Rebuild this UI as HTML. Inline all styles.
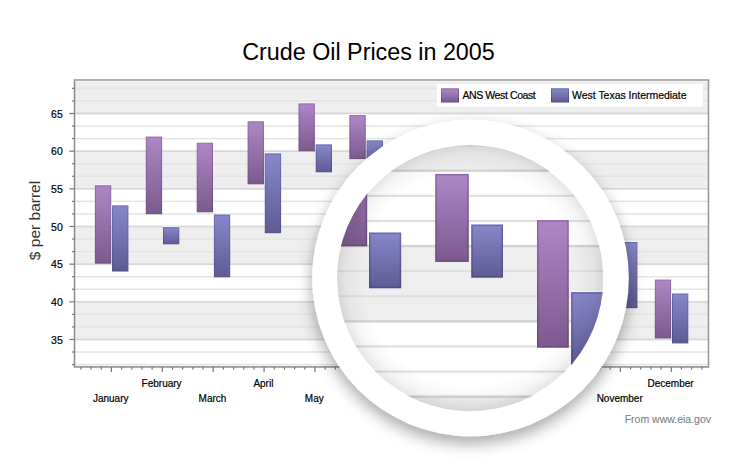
<!DOCTYPE html>
<html><head><meta charset="utf-8"><style>
html,body{margin:0;padding:0;background:#fff;width:750px;height:476px;overflow:hidden}
svg{display:block}
.t{font-family:"Liberation Sans",sans-serif;font-size:10px;fill:#000;stroke:#000;stroke-width:0.2px}
</style></head><body>
<svg width="750" height="476" viewBox="0 0 750 476">
<defs>
<linearGradient id="gans" x1="0" y1="0" x2="0" y2="1"><stop offset="0" stop-color="#ae86c6"/><stop offset="1" stop-color="#7c5a8e"/></linearGradient>
<linearGradient id="sans" x1="0" y1="0" x2="0" y2="1"><stop offset="0" stop-color="#9068a8"/><stop offset="1" stop-color="#6a4a7a"/></linearGradient>
<linearGradient id="gwti" x1="0" y1="0" x2="0" y2="1"><stop offset="0" stop-color="#8787ca"/><stop offset="1" stop-color="#5e5c94"/></linearGradient>
<linearGradient id="swti" x1="0" y1="0" x2="0" y2="1"><stop offset="0" stop-color="#6868b0"/><stop offset="1" stop-color="#4e4c82"/></linearGradient>
<clipPath id="lensclip"><circle cx="470.2" cy="278.2" r="133.2"/></clipPath>
<radialGradient id="inshadow" cx="470" cy="278" r="133" gradientUnits="userSpaceOnUse">
<stop offset="0.80" stop-color="#000" stop-opacity="0"/>
<stop offset="0.93" stop-color="#000" stop-opacity="0.04"/>
<stop offset="1" stop-color="#000" stop-opacity="0.10"/>
</radialGradient>
<filter id="dshadow" x="-30%" y="-30%" width="160%" height="160%">
<feGaussianBlur in="SourceAlpha" stdDeviation="8"/>
<feOffset dx="0" dy="7" result="b"/>
<feComponentTransfer><feFuncA type="linear" slope="0.35"/></feComponentTransfer>
<feMerge><feMergeNode/><feMergeNode in="SourceGraphic"/></feMerge>
</filter>
</defs>
<text x="368.5" y="60.4" text-anchor="middle" style="font-family:'Liberation Sans',sans-serif;font-size:23.3px;fill:#000">Crude Oil Prices in 2005</text>
<text transform="translate(39.6,220.5) rotate(-90)" text-anchor="middle" style="font-family:'Liberation Sans',sans-serif;font-size:15.5px;fill:#333">$ per barrel</text>
<g id="content">
<rect x="74.50" y="80.00" width="634.00" height="286.50" fill="#fff"/>
<rect x="74.50" y="80.00" width="634.00" height="33.50" fill="#eeeeee"/>
<rect x="74.50" y="151.17" width="634.00" height="37.67" fill="#eeeeee"/>
<rect x="74.50" y="226.50" width="634.00" height="37.67" fill="#eeeeee"/>
<rect x="74.50" y="301.83" width="634.00" height="37.67" fill="#eeeeee"/>
<rect x="74.50" y="87.64" width="634.00" height="1.50" fill="#e4e4e4"/>
<rect x="74.50" y="100.19" width="634.00" height="1.50" fill="#e4e4e4"/>
<rect x="74.50" y="112.60" width="634.00" height="1.80" fill="#d8d8d8"/>
<rect x="74.50" y="125.31" width="634.00" height="1.50" fill="#e4e4e4"/>
<rect x="74.50" y="137.86" width="634.00" height="1.50" fill="#e4e4e4"/>
<rect x="74.50" y="150.27" width="634.00" height="1.80" fill="#d8d8d8"/>
<rect x="74.50" y="162.97" width="634.00" height="1.50" fill="#e4e4e4"/>
<rect x="74.50" y="175.53" width="634.00" height="1.50" fill="#e4e4e4"/>
<rect x="74.50" y="187.93" width="634.00" height="1.80" fill="#d8d8d8"/>
<rect x="74.50" y="200.64" width="634.00" height="1.50" fill="#e4e4e4"/>
<rect x="74.50" y="213.19" width="634.00" height="1.50" fill="#e4e4e4"/>
<rect x="74.50" y="225.60" width="634.00" height="1.80" fill="#d8d8d8"/>
<rect x="74.50" y="238.31" width="634.00" height="1.50" fill="#e4e4e4"/>
<rect x="74.50" y="250.86" width="634.00" height="1.50" fill="#e4e4e4"/>
<rect x="74.50" y="263.27" width="634.00" height="1.80" fill="#d8d8d8"/>
<rect x="74.50" y="275.97" width="634.00" height="1.50" fill="#e4e4e4"/>
<rect x="74.50" y="288.53" width="634.00" height="1.50" fill="#e4e4e4"/>
<rect x="74.50" y="300.93" width="634.00" height="1.80" fill="#d8d8d8"/>
<rect x="74.50" y="313.64" width="634.00" height="1.50" fill="#e4e4e4"/>
<rect x="74.50" y="326.19" width="634.00" height="1.50" fill="#e4e4e4"/>
<rect x="74.50" y="338.60" width="634.00" height="1.80" fill="#d8d8d8"/>
<rect x="74.50" y="351.30" width="634.00" height="1.50" fill="#e4e4e4"/>
<rect x="74.50" y="363.86" width="634.00" height="1.50" fill="#e4e4e4"/>
<rect x="94.90" y="184.30" width="16.30" height="1" fill="#fff" opacity="0.8"/>
<rect x="95.40" y="185.80" width="15.30" height="77.30" fill="url(#gans)" stroke="url(#sans)" stroke-width="1.0"/>
<rect x="112.10" y="204.40" width="16.30" height="1" fill="#fff" opacity="0.8"/>
<rect x="112.60" y="205.90" width="15.30" height="65.10" fill="url(#gwti)" stroke="url(#swti)" stroke-width="1.0"/>
<rect x="145.80" y="135.60" width="16.30" height="1" fill="#fff" opacity="0.8"/>
<rect x="146.30" y="137.10" width="15.30" height="76.60" fill="url(#gans)" stroke="url(#sans)" stroke-width="1.0"/>
<rect x="163.00" y="226.20" width="16.30" height="1" fill="#fff" opacity="0.8"/>
<rect x="163.50" y="227.70" width="15.30" height="16.10" fill="url(#gwti)" stroke="url(#swti)" stroke-width="1.0"/>
<rect x="196.70" y="141.70" width="16.30" height="1" fill="#fff" opacity="0.8"/>
<rect x="197.20" y="143.20" width="15.30" height="68.60" fill="url(#gans)" stroke="url(#sans)" stroke-width="1.0"/>
<rect x="213.90" y="213.50" width="16.30" height="1" fill="#fff" opacity="0.8"/>
<rect x="214.40" y="215.00" width="15.30" height="61.80" fill="url(#gwti)" stroke="url(#swti)" stroke-width="1.0"/>
<rect x="247.60" y="120.30" width="16.30" height="1" fill="#fff" opacity="0.8"/>
<rect x="248.10" y="121.80" width="15.30" height="62.00" fill="url(#gans)" stroke="url(#sans)" stroke-width="1.0"/>
<rect x="264.80" y="152.40" width="16.30" height="1" fill="#fff" opacity="0.8"/>
<rect x="265.30" y="153.90" width="15.30" height="78.80" fill="url(#gwti)" stroke="url(#swti)" stroke-width="1.0"/>
<rect x="298.50" y="102.40" width="16.30" height="1" fill="#fff" opacity="0.8"/>
<rect x="299.00" y="103.90" width="15.30" height="46.90" fill="url(#gans)" stroke="url(#sans)" stroke-width="1.0"/>
<rect x="315.70" y="143.40" width="16.30" height="1" fill="#fff" opacity="0.8"/>
<rect x="316.20" y="144.90" width="15.30" height="26.90" fill="url(#gwti)" stroke="url(#swti)" stroke-width="1.0"/>
<rect x="349.40" y="114.10" width="16.30" height="1" fill="#fff" opacity="0.8"/>
<rect x="349.90" y="115.60" width="15.30" height="43.00" fill="url(#gans)" stroke="url(#sans)" stroke-width="1.0"/>
<rect x="366.60" y="139.40" width="16.30" height="1" fill="#fff" opacity="0.8"/>
<rect x="367.10" y="140.90" width="15.30" height="25.60" fill="url(#gwti)" stroke="url(#swti)" stroke-width="1.0"/>
<rect x="400.30" y="137.20" width="16.30" height="1" fill="#fff" opacity="0.8"/>
<rect x="400.80" y="138.70" width="15.30" height="62.80" fill="url(#gans)" stroke="url(#sans)" stroke-width="1.0"/>
<rect x="417.50" y="173.20" width="16.30" height="1" fill="#fff" opacity="0.8"/>
<rect x="418.00" y="174.70" width="15.30" height="39.80" fill="url(#gwti)" stroke="url(#swti)" stroke-width="1.0"/>
<rect x="451.20" y="149.00" width="16.30" height="1" fill="#fff" opacity="0.8"/>
<rect x="451.70" y="150.50" width="15.30" height="59.00" fill="url(#gans)" stroke="url(#sans)" stroke-width="1.0"/>
<rect x="468.40" y="164.00" width="16.30" height="1" fill="#fff" opacity="0.8"/>
<rect x="468.90" y="165.50" width="15.30" height="64.00" fill="url(#gwti)" stroke="url(#swti)" stroke-width="1.0"/>
<rect x="502.10" y="169.00" width="16.30" height="1" fill="#fff" opacity="0.8"/>
<rect x="502.60" y="170.50" width="15.30" height="69.00" fill="url(#gans)" stroke="url(#sans)" stroke-width="1.0"/>
<rect x="519.30" y="189.00" width="16.30" height="1" fill="#fff" opacity="0.8"/>
<rect x="519.80" y="190.50" width="15.30" height="69.00" fill="url(#gwti)" stroke="url(#swti)" stroke-width="1.0"/>
<rect x="553.00" y="199.00" width="16.30" height="1" fill="#fff" opacity="0.8"/>
<rect x="553.50" y="200.50" width="15.30" height="69.00" fill="url(#gans)" stroke="url(#sans)" stroke-width="1.0"/>
<rect x="570.20" y="214.00" width="16.30" height="1" fill="#fff" opacity="0.8"/>
<rect x="570.70" y="215.50" width="15.30" height="69.00" fill="url(#gwti)" stroke="url(#swti)" stroke-width="1.0"/>
<rect x="603.90" y="244.00" width="16.30" height="1" fill="#fff" opacity="0.8"/>
<rect x="604.40" y="245.50" width="15.30" height="54.00" fill="url(#gans)" stroke="url(#sans)" stroke-width="1.0"/>
<rect x="621.10" y="241.00" width="16.30" height="1" fill="#fff" opacity="0.8"/>
<rect x="621.60" y="242.50" width="15.30" height="65.20" fill="url(#gwti)" stroke="url(#swti)" stroke-width="1.0"/>
<rect x="654.80" y="278.60" width="16.30" height="1" fill="#fff" opacity="0.8"/>
<rect x="655.30" y="280.10" width="15.30" height="57.80" fill="url(#gans)" stroke="url(#sans)" stroke-width="1.0"/>
<rect x="672.00" y="292.50" width="16.30" height="1" fill="#fff" opacity="0.8"/>
<rect x="672.50" y="294.00" width="15.30" height="48.90" fill="url(#gwti)" stroke="url(#swti)" stroke-width="1.0"/>
</g>
<rect x="73.75" y="80.0" width="1.5" height="287.5" fill="#8c8c8c"/>
<rect x="73.75" y="79.0" width="635.5" height="2" fill="#b0b0b0"/>
<rect x="75.25" y="81.0" width="632.5" height="1" fill="#f6f6f6"/>
<rect x="707.75" y="80.0" width="1.5" height="287.5" fill="#969696"/>
<rect x="73.75" y="366.0" width="635.5" height="1.8" fill="#9c9c9c"/>
<rect x="72" y="87.79" width="2.5" height="1.2" fill="#777"/>
<rect x="72" y="100.34" width="2.5" height="1.2" fill="#777"/>
<rect x="69.3" y="112.90" width="5.2" height="1.2" fill="#777"/>
<rect x="72" y="125.46" width="2.5" height="1.2" fill="#777"/>
<rect x="72" y="138.01" width="2.5" height="1.2" fill="#777"/>
<rect x="69.3" y="150.57" width="5.2" height="1.2" fill="#777"/>
<rect x="72" y="163.12" width="2.5" height="1.2" fill="#777"/>
<rect x="72" y="175.68" width="2.5" height="1.2" fill="#777"/>
<rect x="69.3" y="188.23" width="5.2" height="1.2" fill="#777"/>
<rect x="72" y="200.79" width="2.5" height="1.2" fill="#777"/>
<rect x="72" y="213.34" width="2.5" height="1.2" fill="#777"/>
<rect x="69.3" y="225.90" width="5.2" height="1.2" fill="#777"/>
<rect x="72" y="238.46" width="2.5" height="1.2" fill="#777"/>
<rect x="72" y="251.01" width="2.5" height="1.2" fill="#777"/>
<rect x="69.3" y="263.57" width="5.2" height="1.2" fill="#777"/>
<rect x="72" y="276.12" width="2.5" height="1.2" fill="#777"/>
<rect x="72" y="288.68" width="2.5" height="1.2" fill="#777"/>
<rect x="69.3" y="301.23" width="5.2" height="1.2" fill="#777"/>
<rect x="72" y="313.79" width="2.5" height="1.2" fill="#777"/>
<rect x="72" y="326.34" width="2.5" height="1.2" fill="#777"/>
<rect x="69.3" y="338.90" width="5.2" height="1.2" fill="#777"/>
<rect x="72" y="351.45" width="2.5" height="1.2" fill="#777"/>
<rect x="72" y="364.01" width="2.5" height="1.2" fill="#777"/>
<text x="62.8" y="117.60" text-anchor="end" class="t" style="font-size:10.5px">65</text>
<text x="62.8" y="155.27" text-anchor="end" class="t" style="font-size:10.5px">60</text>
<text x="62.8" y="192.93" text-anchor="end" class="t" style="font-size:10.5px">55</text>
<text x="62.8" y="230.60" text-anchor="end" class="t" style="font-size:10.5px">50</text>
<text x="62.8" y="268.27" text-anchor="end" class="t" style="font-size:10.5px">45</text>
<text x="62.8" y="305.93" text-anchor="end" class="t" style="font-size:10.5px">40</text>
<text x="62.8" y="343.60" text-anchor="end" class="t" style="font-size:10.5px">35</text>
<rect x="80.26" y="367" width="1.2" height="2.6" fill="#777"/>
<rect x="90.44" y="367" width="1.2" height="2.6" fill="#777"/>
<rect x="100.62" y="367" width="1.2" height="2.6" fill="#777"/>
<rect x="110.80" y="367" width="1.2" height="5" fill="#777"/>
<rect x="120.98" y="367" width="1.2" height="2.6" fill="#777"/>
<rect x="131.16" y="367" width="1.2" height="2.6" fill="#777"/>
<rect x="141.34" y="367" width="1.2" height="2.6" fill="#777"/>
<rect x="151.52" y="367" width="1.2" height="2.6" fill="#777"/>
<rect x="161.70" y="367" width="1.2" height="5" fill="#777"/>
<rect x="171.88" y="367" width="1.2" height="2.6" fill="#777"/>
<rect x="182.06" y="367" width="1.2" height="2.6" fill="#777"/>
<rect x="192.24" y="367" width="1.2" height="2.6" fill="#777"/>
<rect x="202.42" y="367" width="1.2" height="2.6" fill="#777"/>
<rect x="212.60" y="367" width="1.2" height="5" fill="#777"/>
<rect x="222.78" y="367" width="1.2" height="2.6" fill="#777"/>
<rect x="232.96" y="367" width="1.2" height="2.6" fill="#777"/>
<rect x="243.14" y="367" width="1.2" height="2.6" fill="#777"/>
<rect x="253.32" y="367" width="1.2" height="2.6" fill="#777"/>
<rect x="263.50" y="367" width="1.2" height="5" fill="#777"/>
<rect x="273.68" y="367" width="1.2" height="2.6" fill="#777"/>
<rect x="283.86" y="367" width="1.2" height="2.6" fill="#777"/>
<rect x="294.04" y="367" width="1.2" height="2.6" fill="#777"/>
<rect x="304.22" y="367" width="1.2" height="2.6" fill="#777"/>
<rect x="314.40" y="367" width="1.2" height="5" fill="#777"/>
<rect x="324.58" y="367" width="1.2" height="2.6" fill="#777"/>
<rect x="334.76" y="367" width="1.2" height="2.6" fill="#777"/>
<rect x="344.94" y="367" width="1.2" height="2.6" fill="#777"/>
<rect x="355.12" y="367" width="1.2" height="2.6" fill="#777"/>
<rect x="365.30" y="367" width="1.2" height="5" fill="#777"/>
<rect x="375.48" y="367" width="1.2" height="2.6" fill="#777"/>
<rect x="385.66" y="367" width="1.2" height="2.6" fill="#777"/>
<rect x="395.84" y="367" width="1.2" height="2.6" fill="#777"/>
<rect x="406.02" y="367" width="1.2" height="2.6" fill="#777"/>
<rect x="416.20" y="367" width="1.2" height="5" fill="#777"/>
<rect x="426.38" y="367" width="1.2" height="2.6" fill="#777"/>
<rect x="436.56" y="367" width="1.2" height="2.6" fill="#777"/>
<rect x="446.74" y="367" width="1.2" height="2.6" fill="#777"/>
<rect x="456.92" y="367" width="1.2" height="2.6" fill="#777"/>
<rect x="467.10" y="367" width="1.2" height="5" fill="#777"/>
<rect x="477.28" y="367" width="1.2" height="2.6" fill="#777"/>
<rect x="487.46" y="367" width="1.2" height="2.6" fill="#777"/>
<rect x="497.64" y="367" width="1.2" height="2.6" fill="#777"/>
<rect x="507.82" y="367" width="1.2" height="2.6" fill="#777"/>
<rect x="518.00" y="367" width="1.2" height="5" fill="#777"/>
<rect x="528.18" y="367" width="1.2" height="2.6" fill="#777"/>
<rect x="538.36" y="367" width="1.2" height="2.6" fill="#777"/>
<rect x="548.54" y="367" width="1.2" height="2.6" fill="#777"/>
<rect x="558.72" y="367" width="1.2" height="2.6" fill="#777"/>
<rect x="568.90" y="367" width="1.2" height="5" fill="#777"/>
<rect x="579.08" y="367" width="1.2" height="2.6" fill="#777"/>
<rect x="589.26" y="367" width="1.2" height="2.6" fill="#777"/>
<rect x="599.44" y="367" width="1.2" height="2.6" fill="#777"/>
<rect x="609.62" y="367" width="1.2" height="2.6" fill="#777"/>
<rect x="619.80" y="367" width="1.2" height="5" fill="#777"/>
<rect x="629.98" y="367" width="1.2" height="2.6" fill="#777"/>
<rect x="640.16" y="367" width="1.2" height="2.6" fill="#777"/>
<rect x="650.34" y="367" width="1.2" height="2.6" fill="#777"/>
<rect x="660.52" y="367" width="1.2" height="2.6" fill="#777"/>
<rect x="670.70" y="367" width="1.2" height="5" fill="#777"/>
<rect x="680.88" y="367" width="1.2" height="2.6" fill="#777"/>
<rect x="691.06" y="367" width="1.2" height="2.6" fill="#777"/>
<rect x="701.24" y="367" width="1.2" height="2.6" fill="#777"/>
<text x="110.70" y="401.7" text-anchor="middle" class="t">January</text>
<text x="161.60" y="386.8" text-anchor="middle" class="t">February</text>
<text x="212.50" y="401.7" text-anchor="middle" class="t">March</text>
<text x="263.40" y="386.8" text-anchor="middle" class="t">April</text>
<text x="314.30" y="401.7" text-anchor="middle" class="t">May</text>
<text x="619.70" y="401.7" text-anchor="middle" class="t">November</text>
<text x="670.60" y="386.8" text-anchor="middle" class="t">December</text>
<!-- legend -->
<rect x="436.7" y="84.3" width="266.3" height="22.4" fill="#fff"/>
<rect x="441.5" y="88.8" width="17" height="13.2" fill="url(#gans)" stroke="url(#sans)" stroke-width="1"/>
<text x="462.4" y="99.3" class="t" style="font-size:10.5px;letter-spacing:-0.4px">ANS West Coast</text>
<rect x="551.5" y="88.8" width="17" height="13.2" fill="url(#gwti)" stroke="url(#swti)" stroke-width="1"/>
<text x="572.1" y="99.3" class="t" style="font-size:10.5px;letter-spacing:-0.03px">West Texas Intermediate</text>
<text x="711" y="422.6" text-anchor="end" class="t" style="font-size:10.5px;fill:#808080;stroke:#808080;stroke-width:0.1px">From www.eia.gov</text>
<!-- lens -->
<circle cx="470.5" cy="278" r="158.3" fill="#fff" filter="url(#dshadow)"/>
<g clip-path="url(#lensclip)">
<rect x="337" y="145" width="266" height="266" fill="#fff"/>
<rect x="-110.04" y="103.70" width="1259.12" height="573.00" fill="#fff"/>
<rect x="-110.04" y="103.70" width="1259.12" height="67.00" fill="#eeeeee"/>
<rect x="-110.04" y="246.03" width="1259.12" height="75.33" fill="#eeeeee"/>
<rect x="-110.04" y="396.70" width="1259.12" height="75.33" fill="#eeeeee"/>
<rect x="-110.04" y="547.37" width="1259.12" height="75.33" fill="#eeeeee"/>
<rect x="-110.04" y="119.50" width="1259.12" height="1.95" fill="#dedede"/>
<rect x="-110.04" y="144.61" width="1259.12" height="1.95" fill="#dedede"/>
<rect x="-110.04" y="169.53" width="1259.12" height="2.34" fill="#d2d2d2"/>
<rect x="-110.04" y="194.84" width="1259.12" height="1.95" fill="#dedede"/>
<rect x="-110.04" y="219.95" width="1259.12" height="1.95" fill="#dedede"/>
<rect x="-110.04" y="244.86" width="1259.12" height="2.34" fill="#d2d2d2"/>
<rect x="-110.04" y="270.17" width="1259.12" height="1.95" fill="#dedede"/>
<rect x="-110.04" y="295.28" width="1259.12" height="1.95" fill="#dedede"/>
<rect x="-110.04" y="320.20" width="1259.12" height="2.34" fill="#d2d2d2"/>
<rect x="-110.04" y="345.50" width="1259.12" height="1.95" fill="#dedede"/>
<rect x="-110.04" y="370.61" width="1259.12" height="1.95" fill="#dedede"/>
<rect x="-110.04" y="395.53" width="1259.12" height="2.34" fill="#d2d2d2"/>
<rect x="-110.04" y="420.83" width="1259.12" height="1.95" fill="#dedede"/>
<rect x="-110.04" y="445.95" width="1259.12" height="1.95" fill="#dedede"/>
<rect x="-110.04" y="470.86" width="1259.12" height="2.34" fill="#d2d2d2"/>
<rect x="-110.04" y="496.17" width="1259.12" height="1.95" fill="#dedede"/>
<rect x="-110.04" y="521.28" width="1259.12" height="1.95" fill="#dedede"/>
<rect x="-110.04" y="546.20" width="1259.12" height="2.34" fill="#d2d2d2"/>
<rect x="-110.04" y="571.50" width="1259.12" height="1.95" fill="#dedede"/>
<rect x="-110.04" y="596.61" width="1259.12" height="1.95" fill="#dedede"/>
<rect x="-110.04" y="621.53" width="1259.12" height="2.34" fill="#d2d2d2"/>
<rect x="-110.04" y="646.83" width="1259.12" height="1.95" fill="#dedede"/>
<rect x="-110.04" y="671.95" width="1259.12" height="1.95" fill="#dedede"/>
<rect x="-69.53" y="313.30" width="32.37" height="1" fill="#fff" opacity="0.8"/>
<rect x="-68.73" y="315.10" width="30.77" height="155.00" fill="url(#gans)" stroke="url(#sans)" stroke-width="1.6"/>
<rect x="-35.37" y="353.50" width="32.37" height="1" fill="#fff" opacity="0.8"/>
<rect x="-34.57" y="355.30" width="30.77" height="130.60" fill="url(#gwti)" stroke="url(#swti)" stroke-width="1.6"/>
<rect x="31.56" y="215.90" width="32.37" height="1" fill="#fff" opacity="0.8"/>
<rect x="32.36" y="217.70" width="30.77" height="153.60" fill="url(#gans)" stroke="url(#sans)" stroke-width="1.6"/>
<rect x="65.72" y="397.10" width="32.37" height="1" fill="#fff" opacity="0.8"/>
<rect x="66.52" y="398.90" width="30.77" height="32.60" fill="url(#gwti)" stroke="url(#swti)" stroke-width="1.6"/>
<rect x="132.65" y="228.10" width="32.37" height="1" fill="#fff" opacity="0.8"/>
<rect x="133.45" y="229.90" width="30.77" height="137.60" fill="url(#gans)" stroke="url(#sans)" stroke-width="1.6"/>
<rect x="166.81" y="371.70" width="32.37" height="1" fill="#fff" opacity="0.8"/>
<rect x="167.61" y="373.50" width="30.77" height="124.00" fill="url(#gwti)" stroke="url(#swti)" stroke-width="1.6"/>
<rect x="233.73" y="185.30" width="32.37" height="1" fill="#fff" opacity="0.8"/>
<rect x="234.53" y="187.10" width="30.77" height="124.40" fill="url(#gans)" stroke="url(#sans)" stroke-width="1.6"/>
<rect x="267.89" y="249.50" width="32.37" height="1" fill="#fff" opacity="0.8"/>
<rect x="268.69" y="251.30" width="30.77" height="158.00" fill="url(#gwti)" stroke="url(#swti)" stroke-width="1.6"/>
<rect x="334.00" y="149.50" width="33.20" height="1" fill="#fff" opacity="0.8"/>
<rect x="334.80" y="151.30" width="31.60" height="94.20" fill="url(#gans)" stroke="url(#sans)" stroke-width="1.6"/>
<rect x="369.00" y="231.50" width="32.20" height="1" fill="#fff" opacity="0.8"/>
<rect x="369.80" y="233.30" width="30.60" height="54.20" fill="url(#gwti)" stroke="url(#swti)" stroke-width="1.6"/>
<rect x="435.20" y="172.90" width="33.60" height="1" fill="#fff" opacity="0.8"/>
<rect x="436.00" y="174.70" width="32.00" height="86.40" fill="url(#gans)" stroke="url(#sans)" stroke-width="1.6"/>
<rect x="471.20" y="223.50" width="31.80" height="1" fill="#fff" opacity="0.8"/>
<rect x="472.00" y="225.30" width="30.20" height="51.60" fill="url(#gwti)" stroke="url(#swti)" stroke-width="1.6"/>
<rect x="537.00" y="219.10" width="31.80" height="1" fill="#fff" opacity="0.8"/>
<rect x="537.80" y="220.90" width="30.20" height="126.00" fill="url(#gans)" stroke="url(#sans)" stroke-width="1.6"/>
<rect x="571.10" y="291.10" width="32.90" height="1" fill="#fff" opacity="0.8"/>
<rect x="571.90" y="292.90" width="31.30" height="80.00" fill="url(#gwti)" stroke="url(#swti)" stroke-width="1.6"/>
<rect x="638.08" y="242.70" width="32.37" height="1" fill="#fff" opacity="0.8"/>
<rect x="638.88" y="244.50" width="30.77" height="118.40" fill="url(#gans)" stroke="url(#sans)" stroke-width="1.6"/>
<rect x="672.24" y="272.70" width="32.37" height="1" fill="#fff" opacity="0.8"/>
<rect x="673.04" y="274.50" width="30.77" height="128.40" fill="url(#gwti)" stroke="url(#swti)" stroke-width="1.6"/>
<rect x="739.17" y="282.70" width="32.37" height="1" fill="#fff" opacity="0.8"/>
<rect x="739.97" y="284.50" width="30.77" height="138.40" fill="url(#gans)" stroke="url(#sans)" stroke-width="1.6"/>
<rect x="773.33" y="322.70" width="32.37" height="1" fill="#fff" opacity="0.8"/>
<rect x="774.13" y="324.50" width="30.77" height="138.40" fill="url(#gwti)" stroke="url(#swti)" stroke-width="1.6"/>
<rect x="840.26" y="342.70" width="32.37" height="1" fill="#fff" opacity="0.8"/>
<rect x="841.06" y="344.50" width="30.77" height="138.40" fill="url(#gans)" stroke="url(#sans)" stroke-width="1.6"/>
<rect x="874.42" y="372.70" width="32.37" height="1" fill="#fff" opacity="0.8"/>
<rect x="875.22" y="374.50" width="30.77" height="138.40" fill="url(#gwti)" stroke="url(#swti)" stroke-width="1.6"/>
<rect x="941.35" y="432.70" width="32.37" height="1" fill="#fff" opacity="0.8"/>
<rect x="942.15" y="434.50" width="30.77" height="108.40" fill="url(#gans)" stroke="url(#sans)" stroke-width="1.6"/>
<rect x="975.50" y="426.70" width="32.37" height="1" fill="#fff" opacity="0.8"/>
<rect x="976.30" y="428.50" width="30.77" height="130.80" fill="url(#gwti)" stroke="url(#swti)" stroke-width="1.6"/>
<rect x="1042.43" y="501.90" width="32.37" height="1" fill="#fff" opacity="0.8"/>
<rect x="1043.23" y="503.70" width="30.77" height="116.00" fill="url(#gans)" stroke="url(#sans)" stroke-width="1.6"/>
<rect x="1076.59" y="529.70" width="32.37" height="1" fill="#fff" opacity="0.8"/>
<rect x="1077.39" y="531.50" width="30.77" height="98.20" fill="url(#gwti)" stroke="url(#swti)" stroke-width="1.6"/>
<circle cx="470" cy="278" r="133" fill="url(#inshadow)"/>
</g>
</svg>
</body></html>
